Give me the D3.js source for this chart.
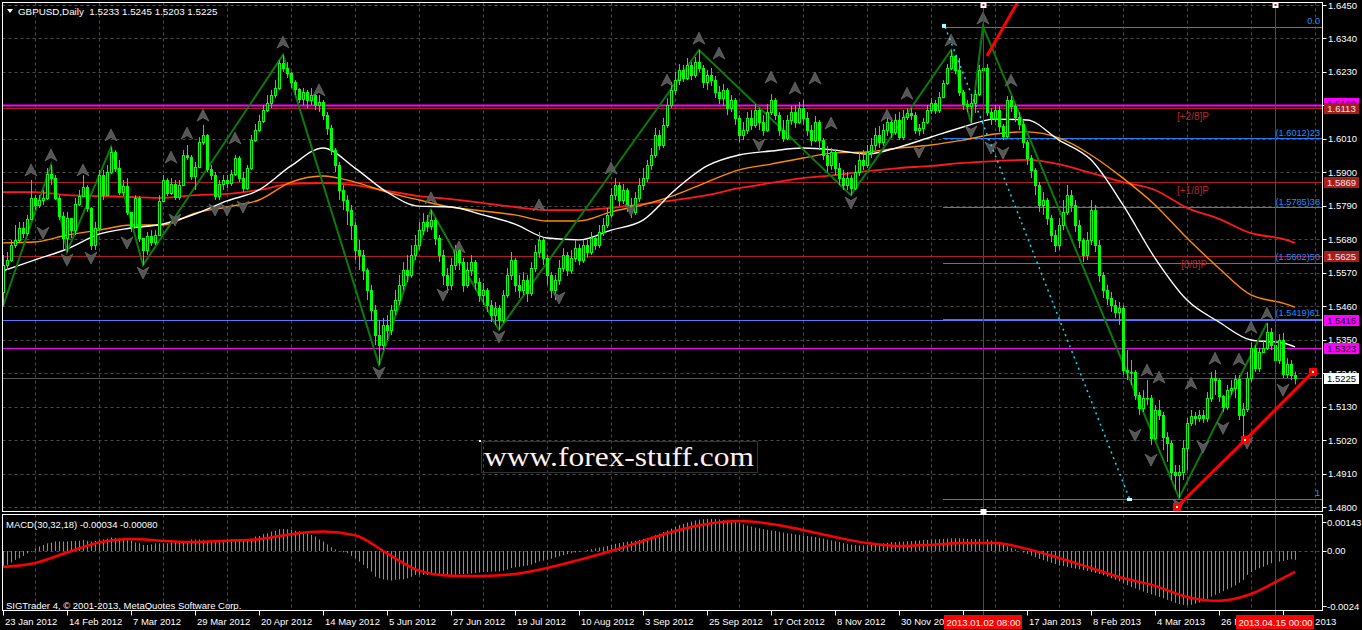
<!DOCTYPE html>
<html><head><meta charset="utf-8">
<script src="https://cdn.jsdelivr.net/npm/d3@7"></script>
<style>body{margin:0;background:#000;overflow:hidden}svg{display:block}text{font-family:"Liberation Sans",Arial,sans-serif}</style>
</head><body>
<svg id="c" width="1362" height="630"></svg>
<script>
// ---------------- DATA (prices in pips, /10000) ----------------
const firstOpenPips = 15507;
const closesPips = [
15595,15612,15661,15678,15717,15700,15747,15816,15793,15809,
15816,15895,15881,15816,15756,15684,15750,15710,15796,15822,
15852,15783,15661,15717,15891,15825,15901,15967,15914,15835,
15855,15770,15724,15816,15684,15645,15691,15671,15694,15806,
15875,15832,15862,15819,15858,15957,15950,15888,15918,16000,
16023,15911,15891,15822,15862,15875,15865,15895,15947,15881,
15848,15914,16006,16039,16069,16105,16128,16154,16177,16259,
16243,16226,16197,16174,16141,16164,16138,16154,16121,16131,
16088,16046,15973,15924,15842,15809,15776,15727,15645,15628,
15579,15513,15447,15365,15332,15398,15382,15447,15480,15530,
15579,15563,15628,15661,15710,15737,15724,15743,15684,15628,
15563,15530,15595,15645,15605,15530,15579,15605,15539,15497,
15513,15464,15431,15454,15415,15497,15563,15612,15530,15513,
15546,15503,15585,15638,15678,15619,15563,15513,15546,15585,
15628,15579,15619,15651,15612,15661,15638,15684,15661,15704,
15727,15760,15825,15858,15809,15842,15793,15770,15816,15858,
15881,15924,15957,16023,15990,16056,16121,16171,16203,16236,
16210,16253,16220,16262,16243,16197,16220,16203,16164,16144,
16171,16111,16138,16079,16023,16039,16079,16056,16105,16065,
16039,16098,16138,16088,16039,16013,16072,16098,16065,16111,
16079,16039,16006,16065,16006,15957,15924,15967,15914,15881,
15858,15881,15848,15901,15941,15924,15967,15990,16023,16000,
16039,16065,16033,16072,16016,16082,16095,16088,16039,16046,
16065,16105,16128,16105,16148,16194,16243,16282,16236,16164,
16125,16118,16128,16157,16236,16243,16098,16079,16105,16052,
16020,16138,16118,16082,16059,16000,15947,15908,15858,15793,
15809,15750,15694,15661,15727,15770,15825,15793,15727,15678,
15628,15678,15776,15661,15563,15513,15487,15464,15441,15454,
15250,15243,15243,15168,15125,15158,15158,15027,15119,15102,
15030,15010,14915,14905,14915,14994,15076,15099,15092,15102,
15092,15158,15224,15217,15165,15129,15184,15191,15221,15102,
15122,15224,15322,15257,15309,15322,15375,15332,15283,15349,
15237,15270,15233,15225];
const highsPips = [
15628,15638,15678,15727,15737,15737,15760,15875,15825,15825,
15842,15914,15924,15891,15825,15770,15770,15743,15816,15842,
15891,15858,15786,15737,15908,15908,15924,15983,15973,15941,
15875,15881,15770,15825,15822,15684,15704,15710,15710,15825,
15891,15881,15881,15875,15875,15973,15990,15957,15934,16016,
16056,16026,15924,15901,15875,15891,15891,15908,15957,15954,
15901,15924,16023,16059,16089,16121,16154,16171,16203,16269,
16286,16262,16230,16203,16177,16177,16171,16177,16164,16154,
16138,16098,16056,15980,15934,15858,15825,15793,15737,15678,
15645,15585,15530,15464,15415,15421,15431,15464,15513,15563,
15605,15628,15661,15694,15737,15766,15760,15776,15750,15694,
15645,15585,15619,15661,15651,15619,15605,15628,15612,15553,
15536,15520,15480,15474,15464,15513,15585,15638,15619,15563,
15572,15563,15605,15661,15704,15684,15628,15572,15563,15612,
15651,15638,15645,15678,15664,15678,15678,15704,15694,15727,
15750,15783,15848,15881,15868,15862,15848,15816,15835,15881,
15914,15941,15980,16046,16039,16079,16144,16197,16230,16256,
16253,16276,16262,16279,16302,16253,16236,16243,16217,16184,
16190,16177,16154,16144,16088,16065,16098,16105,16124,16111,
16088,16124,16157,16144,16098,16072,16088,16118,16121,16131,
16138,16098,16056,16085,16072,16013,15987,15980,15973,15931,
15908,15901,15891,15924,15967,15973,15990,16013,16046,16052,
16059,16085,16079,16092,16098,16105,16111,16111,16098,16059,
16079,16121,16144,16138,16164,16203,16256,16302,16282,16276,
16171,16138,16151,16171,16253,16380,16256,16111,16121,16118,
16059,16151,16151,16124,16098,16072,16006,15957,15914,15868,
15835,15816,15760,15710,15750,15809,15858,15842,15809,15743,
15684,15704,15809,15793,15678,15572,15530,15507,15480,15474,
15464,15316,15283,15250,15178,15184,15217,15168,15135,15152,
15112,15046,15020,14938,14938,15020,15092,15119,15112,15119,
15119,15178,15244,15250,15224,15168,15201,15217,15234,15234,
15142,15244,15342,15332,15322,15349,15405,15388,15349,15368,
15372,15289,15283,15245];
const lowsPips = [
15460,15579,15605,15651,15671,15684,15691,15743,15776,15783,
15793,15809,15858,15809,15743,15645,15638,15684,15694,15789,
15825,15770,15645,15645,15710,15809,15822,15895,15901,15825,
15822,15760,15704,15717,15671,15595,15628,15658,15661,15691,
15802,15822,15825,15809,15809,15855,15941,15875,15842,15914,
15990,15901,15875,15809,15809,15842,15848,15855,15888,15868,
15835,15842,15908,16000,16033,16062,16098,16111,16144,16171,
16230,16210,16177,16154,16128,16121,16111,16121,16105,16098,
16072,16023,15957,15901,15809,15776,15727,15678,15612,15579,
15546,15480,15415,15332,15267,15316,15349,15365,15431,15464,
15513,15539,15553,15612,15645,15694,15704,15710,15661,15605,
15530,15503,15513,15579,15579,15507,15520,15559,15513,15474,
15464,15441,15408,15398,15382,15405,15487,15546,15507,15487,
15497,15474,15494,15572,15619,15595,15530,15487,15480,15530,
15572,15559,15566,15605,15595,15602,15619,15628,15645,15651,
15691,15717,15750,15809,15789,15796,15770,15750,15760,15802,
15842,15868,15908,15947,15973,15980,16046,16111,16154,16187,
16197,16203,16203,16210,16230,16177,16171,16184,16144,16124,
16118,16088,16098,16056,16000,16006,16026,16039,16046,16039,
16020,16033,16088,16072,16020,16000,16006,16056,16046,16059,
16056,16020,15987,16000,15973,15941,15901,15908,15891,15858,
15842,15842,15825,15842,15888,15908,15914,15947,15973,15980,
15987,16020,16013,16023,16006,16006,16072,16072,16026,16020,
16026,16059,16092,16092,16095,16144,16187,16236,16223,16151,
16105,16098,16062,16095,16151,16223,16085,16056,16065,16033,
16006,16013,16098,16065,16039,15980,15924,15881,15825,15770,
15760,15727,15671,15638,15645,15710,15760,15770,15704,15651,
15605,15612,15661,15638,15539,15487,15464,15441,15421,15398,
15234,15217,15201,15152,15102,15112,15135,15004,15020,15086,
14987,14948,14889,14856,14830,14889,14921,15066,15069,15079,
15076,15079,15145,15168,15145,15112,15119,15168,15158,15086,
15030,15112,15211,15244,15244,15306,15316,15316,15263,15270,
15224,15224,15217,15203];

// MACD histogram (x 1e-5) per bar, signal sampled every 8 bars
const macdMainE5 = [
-60,-53,-44,-34,-28,-19,-9,-3,10,17,
23,29,32,36,36,36,36,38,38,39,
42,39,36,38,42,44,47,51,50,48,
47,44,39,32,29,23,23,25,29,29,
29,29,33,36,36,36,36,44,44,44,
42,39,39,39,42,42,44,44,42,42,
42,42,47,55,57,64,67,74,77,83,
84,83,80,77,75,72,67,61,55,44,
36,25,14,6,-1,-5,-9,-19,-28,-41,
-53,-66,-79,-98,-104,-108,-110,-113,-110,-108,
-108,-104,-98,-91,-91,-91,-91,-91,-91,-91,
-91,-91,-91,-90,-88,-88,-87,-85,-84,-82,
-80,-80,-79,-78,-78,-75,-70,-65,-62,-60,
-58,-56,-52,-46,-40,-37,-33,-30,-25,-20,
-16,-12,-9,-6,-3,1,4,7,10,13,
16,19,23,27,30,33,35,37,39,42,
46,50,55,61,66,72,78,85,92,98,
103,108,112,116,119,121,122,122,121,120,
118,116,113,110,106,101,97,93,89,86,
83,80,78,76,73,70,67,65,63,61,
59,57,55,53,50,47,43,40,37,34,
30,27,24,22,21,21,22,23,25,27,
29,31,33,34,35,36,37,38,39,40,
41,42,43,44,45,46,47,48,48,48,
47,46,45,45,46,47,44,40,35,30,
24,18,12,6,0,-6,-12,-18,-24,-30,
-35,-40,-45,-50,-55,-58,-61,-64,-67,-70,
-73,-76,-80,-84,-88,-93,-98,-104,-110,-116,
-123,-130,-137,-143,-149,-155,-160,-165,-170,-175,
-180,-186,-192,-198,-202,-205,-206,-205,-201,-196,
-189,-182,-174,-167,-160,-153,-146,-139,-131,-121,
-110,-91,-80,-72,-66,-60,-53,-47,-44,-41,
-38,-34,-32,-34];
const sampleIdx = [0,8,16,24,32,40,48,56,64,72,80,88,96,104,112,120,128,136,144,152,160,168,176,184,192,200,208,216,224,232,240,248,256,264,272,280,288,296,304,312,320,323];
const macdSignalE5 = [-61,-46,-6,32,46,39,34,39,45,64,74,60,-9,-75,-94,-95,-88,-65,-34,0,38,76,103,114,103,80,53,30,19,23,30,30,8,-27,-65,-103,-133,-175,-190,-164,-103,-80];

// moving averages sampled at sampleIdx
const maWhitePips = [15576,15612,15648,15697,15717,15730,15763,15806,15842,15921,15980,15914,15835,15789,15786,15760,15730,15684,15678,15710,15743,15842,15921,15957,15970,15980,15973,15960,15983,16016,16049,16075,16072,16006,15941,15793,15618,15480,15408,15349,15339,15326];
const maOrangePips = [15668,15671,15694,15710,15727,15727,15766,15786,15809,15868,15888,15868,15835,15809,15786,15773,15760,15740,15740,15770,15793,15825,15868,15908,15927,15947,15964,15967,15980,15990,16006,16026,16033,16013,15957,15881,15793,15684,15585,15497,15470,15457];
const maRedPips = [15835,15835,15825,15822,15819,15816,15825,15829,15842,15862,15865,15858,15839,15822,15812,15799,15786,15776,15776,15783,15796,15809,15825,15848,15865,15881,15891,15904,15914,15921,15931,15937,15941,15927,15898,15868,15842,15783,15747,15700,15681,15668];

// zigzag vertices [bar, price]
const zigzag = [[0,1.5460],[12,1.5924],[16,1.5638],[27,1.5983],[35,1.5595],[70,1.6286],[94,1.5267],[107,1.5776],[124,1.5382],[174,1.6302],[212,1.5825],[237,1.6302],[242,1.6062],[245,1.6380],[294,1.4830],[316,1.5405]];
// fractal-like arrow markers [bar, price]
const upMarks = [[7,1.5908],[12,1.5957],[20,1.5908],[27,1.6023],[42,1.5950],[46,1.6029],[50,1.6088],[58,1.6013],[70,1.6328],[79,1.6171],[107,1.5816],[114,1.5655],[134,1.5793],[152,1.5914],[166,1.6203],[174,1.6341],[179,1.6292],[192,1.6213],[198,1.6177],[203,1.6210],[207,1.6062],[221,1.6088],[226,1.6160],[237,1.6335],[245,1.6407],[252,1.6203],[286,1.5250],[289,1.5227],[297,1.5207],[303,1.5289],[309,1.5286],[312,1.5391],[316,1.5437]];
const downMarks = [[10,1.5700],[16,1.5612],[22,1.5618],[31,1.5668],[35,1.5569],[43,1.5743],[53,1.5776],[56,1.5776],[60,1.5786],[94,1.5240],[110,1.5497],[124,1.5359],[139,1.5487],[157,1.5776],[189,1.5990],[212,1.5799],[229,1.5967],[242,1.6033],[247,1.5980],[250,1.5963],[283,1.5036],[287,1.4954],[294,1.4806],[300,1.4997],[305,1.5059],[311,1.5010],[320,1.5184]];

const priceTicks = [1.6450,1.6340,1.6230,1.6120,1.6010,1.5900,1.5790,1.5680,1.5570,1.5460,1.5350,1.5240,1.5130,1.5020,1.4910,1.4800];
const priceTickHidden = [1.6120];
const dateTickIdx = [0,16,32,48,64,80,96,112,128,144,160,176,192,208,224,240,256,272,288,304,320];
const dateTickLabels = ["23 Jan 2012","14 Feb 2012","7 Mar 2012","29 Mar 2012","20 Apr 2012","14 May 2012","5 Jun 2012","27 Jun 2012","19 Jul 2012","10 Aug 2012","3 Sep 2012","25 Sep 2012","17 Oct 2012","8 Nov 2012","30 Nov 2012","24 Dec 2012","17 Jan 2013","8 Feb 2013","4 Mar 2013","26 Mar 2013","17 Apr 2013"];

const murreyLevels = [1.6113,1.5869,1.5625];
const murreyNames = ["[+2/8]P","[+1/8]P","[8/8]P"];
const fiboLevels = [1.6378,1.6012,1.5785,1.5602,1.5419,1.4827];
const fiboNames = ["0.0","(1.6012)23","(1.5785)38","(1.5602)50","(1.5419)61","1"];
const fiboStart = 235;
const hLineLevels = [1.6120,1.5416,1.5323];
const hLineColors = ["#ff00ff","#5a78ff","#ff00ff"];
const bidPrice = 1.5225;
const tagValues = [1.6120,1.6113,1.5869,1.5625,1.5416,1.5323,1.5225];
const tagTexts = ["1.6120","1.6113","1.5869","1.5625","1.5416","1.5323","1.5225"];
const tagKinds = ["mag","brown","brown","brown","mag","mag","white"];
const crossIdx = [245,318];
const crossLabels = ["2013.01.02 08:00","2013.04.15 00:00"];
const supportLine = [[293.5,1.4800],[310.5,1.5020],[327.5,1.5244]];
const topLine = [[246,1.6282],[254.25,1.6473]];
const fiboTrend = [[235.5,1.6378],[281.75,1.4823]];
const macdTicks = [0.00143,0,-0.0024];
const macdTickLabels = ["0.00143","0.00","-0.0024"];

// ---------------- DRAW ----------------
const svg = d3.select('#c');
const L=2.5,R=1322.5,T=2.5,B=511.5,MT=514.5,MB=610.5;
const x = d3.scaleLinear().domain([0,323]).range([3,1295]);
const y = d3.scaleLinear().domain([1.4800,1.6450]).range([507,5]);
const ym = d3.scaleLinear().domain([-0.0024,0.00143]).range([614,513.4]);
const P = v=>v/10000;
const closes=closesPips.map(P), highs=highsPips.map(P), lows=lowsPips.map(P);
const opens=closes.map((c,i)=>i===0?P(firstOpenPips):closes[i-1]);
const bars=closes.map((c,i)=>({i,o:opens[i],c,h:Math.max(highs[i],opens[i],c),l:Math.min(lows[i],opens[i],c)}));
const bx=i=>Math.round(x(i));

svg.append('rect').attr('width',1362).attr('height',630).attr('fill','#000');
const defs=svg.append('defs');
defs.append('clipPath').attr('id','cm').append('rect').attr('x',L).attr('y',T).attr('width',R-L).attr('height',B-T);
defs.append('clipPath').attr('id','cd').append('rect').attr('x',L).attr('y',MT).attr('width',R-L).attr('height',MB-MT);
const cpd=defs.append('clipPath').attr('id','cdate');
cpd.append('rect').attr('x',0).attr('y',610).attr('width',bx(crossIdx[0])-39).attr('height',20);
cpd.append('rect').attr('x',bx(crossIdx[0])+39).attr('y',610).attr('width',(bx(crossIdx[1])-39)-(bx(crossIdx[0])+39)).attr('height',20);
cpd.append('rect').attr('x',bx(crossIdx[1])+39).attr('y',610).attr('width',200).attr('height',20);
defs.append('clipPath').attr('id','ctag0').append('rect').attr('x',1320).attr('y',0).attr('width',42).attr('height',Math.round(y(1.6113))-5);

const gm = svg.append('g').attr('clip-path','url(#cm)');
const gd = svg.append('g').attr('clip-path','url(#cd)');
const grid='#4a4a4a';
gm.selectAll('line.hg').data(priceTicks).join('line').attr('class','hg').attr('x1',L).attr('x2',R)
  .attr('y1',d=>Math.round(y(d))+0.5).attr('y2',d=>Math.round(y(d))+0.5)
  .attr('stroke',grid).attr('stroke-dasharray','3,3');
const vgrid = dateTickIdx.map(i=>i+8);
[gm,gd].forEach(g=>g.selectAll('line.vg').data(vgrid).join('line').attr('class','vg')
  .attr('x1',d=>Math.round(x(d))+0.5).attr('x2',d=>Math.round(x(d))+0.5)
  .attr('y1',g===gm?T:MT).attr('y2',g===gm?B:MB).attr('stroke',grid).attr('stroke-dasharray','3,3'));
gd.append('line').attr('x1',L).attr('x2',R).attr('y1',Math.round(ym(0))+0.5).attr('y2',Math.round(ym(0))+0.5)
  .attr('stroke',grid).attr('stroke-dasharray','3,3');

const hy=v=>Math.round(y(v))+0.5;
gm.selectAll('line.mur').data(murreyLevels).join('line').attr('class','mur').attr('x1',L).attr('x2',R).attr('y1',hy).attr('y2',hy).attr('stroke','#b01e1e');
gm.append('line').attr('x1',L).attr('x2',R).attr('y1',hy(bidPrice)).attr('y2',hy(bidPrice)).attr('stroke','#555');
gm.selectAll('line.hl').data(hLineLevels).join('line').attr('class','hl').attr('x1',L).attr('x2',R).attr('y1',hy).attr('y2',hy)
  .attr('stroke',(d,i)=>hLineColors[i]).attr('stroke-width',(d,i)=>i===0?2:1);
gm.selectAll('line.fib').data(fiboLevels).join('line').attr('class','fib').attr('x1',x(fiboStart)).attr('x2',R).attr('y1',hy).attr('y2',hy).attr('stroke','#1e82ff');
gm.selectAll('text.fibt').data(fiboLevels).join('text').attr('class','fibt').attr('x',1320).attr('y',d=>y(d)-2.5).attr('text-anchor','end')
  .attr('fill','#1e90ff').attr('font-size',9.2).text((d,i)=>fiboNames[i]);
gm.selectAll('text.murt').data(murreyLevels).join('text').attr('class','murt').attr('x',(d,i)=>i===2?1181:1177).attr('y',d=>y(d)+12)
  .attr('fill','#b8282a').attr('font-size',10).text((d,i)=>murreyNames[i]);

const maLine=arr=>d3.line().x((d,k)=>x(sampleIdx[k])).y(d=>y(P(d))).curve(d3.curveMonotoneX)(arr);
gm.append('path').attr('d',maLine(maRedPips)).attr('fill','none').attr('stroke','#ff1a1a').attr('stroke-width',1.8);
gm.append('path').attr('d',maLine(maOrangePips)).attr('fill','none').attr('stroke','#ff8c00').attr('stroke-width',1.4);
gm.append('path').attr('d',maLine(maWhitePips)).attr('fill','none').attr('stroke','#ffffff').attr('stroke-width',1.4);

gm.append('path').attr('d',d3.line().x(d=>x(d[0])).y(d=>y(d[1]))(zigzag)).attr('fill','none').attr('stroke','#0b7a0b').attr('stroke-width',2);

gm.selectAll('line.wick').data(bars).join('line').attr('class','wick').attr('x1',d=>bx(d.i)+0.5).attr('x2',d=>bx(d.i)+0.5)
  .attr('y1',d=>y(d.h)).attr('y2',d=>y(d.l)).attr('stroke','#00ff00');
gm.selectAll('rect.body').data(bars).join('rect').attr('class','body').attr('x',d=>bx(d.i)-0.5).attr('width',2)
  .attr('y',d=>Math.round(y(Math.max(d.o,d.c)))+0.5)
  .attr('height',d=>Math.max(0.5,Math.round(y(Math.min(d.o,d.c)))-Math.round(y(Math.max(d.o,d.c)))))
  .attr('fill',d=>d.c>d.o?'#000':'#00ff00').attr('stroke','#00ff00');

const upPath='M0,-6 L6,6 L0,2.5 L-6,6 Z', dnPath='M0,6 L6,-6 L0,-2.5 L-6,-6 Z';
gm.selectAll('path.um').data(upMarks).join('path').attr('class','um').attr('d',upPath)
  .attr('transform',d=>`translate(${x(d[0])},${y(d[1])})`).attr('fill','#555').attr('stroke','#7a7a7a').attr('stroke-width',0.6);
gm.selectAll('path.dm').data(downMarks).join('path').attr('class','dm').attr('d',dnPath)
  .attr('transform',d=>`translate(${x(d[0])},${y(d[1])})`).attr('fill','#555').attr('stroke','#7a7a7a').attr('stroke-width',0.6);

gm.append('path').attr('d',d3.line().x(d=>x(d[0])).y(d=>y(d[1]))(fiboTrend)).attr('stroke','#00e5ff')
  .attr('stroke-width',1.5).attr('stroke-dasharray','2,4').attr('fill','none');
gm.append('rect').attr('x',x(fiboTrend[0][0])-3).attr('y',y(fiboTrend[0][1])-3).attr('width',4).attr('height',4).attr('fill','#9ff');
gm.append('rect').attr('x',x(fiboTrend[1][0])-3).attr('y',y(fiboTrend[1][1])-2).attr('width',5).attr('height',3).attr('fill','#cff');
const tl=d3.line().x(d=>x(d[0])).y(d=>y(d[1]));
gm.append('path').attr('d',tl(supportLine)).attr('stroke','#ff0000').attr('stroke-width',3).attr('fill','none');
gm.append('path').attr('d',tl(topLine)).attr('stroke','#ff0000').attr('stroke-width',3).attr('fill','none');
gm.selectAll('rect.sq').data(supportLine).join('rect').attr('class','sq').attr('x',d=>x(d[0])-4).attr('y',d=>y(d[1])-4)
  .attr('width',8).attr('height',8).attr('fill','#ff0000');
gm.selectAll('rect.sqd').data(supportLine).join('rect').attr('class','sqd').attr('x',d=>x(d[0])-1).attr('y',d=>y(d[1])-1)
  .attr('width',2).attr('height',2).attr('fill','#fff');

svg.append('rect').attr('x',481.5).attr('y',441.5).attr('width',276).attr('height',31).attr('fill','none').attr('stroke','#333');
svg.append('rect').attr('x',479).attr('y',440).attr('width',2).attr('height',2).attr('fill','#fff');
svg.append('text').attr('x',484).attr('y',466).style('font-family','"Liberation Serif",serif')
  .attr('font-size',28).attr('fill','#fff0ee').attr('textLength',270).attr('lengthAdjust','spacingAndGlyphs').text('www.forex-stuff.com');

gd.selectAll('line.mh').data(macdMainE5).join('line').attr('class','mh').attr('x1',(d,i)=>bx(i)+0.5).attr('x2',(d,i)=>bx(i)+0.5)
  .attr('y1',ym(0)).attr('y2',d=>ym(d*1e-5)).attr('stroke','#2fd02f');
gd.append('path').attr('d',d3.line().x((d,k)=>x(sampleIdx[k])).y(d=>ym(d*1e-5)).curve(d3.curveMonotoneX)(macdSignalE5))
  .attr('fill','none').attr('stroke','#ff0000').attr('stroke-width',2.5);

svg.selectAll('line.cv').data(crossIdx).join('line').attr('class','cv').attr('x1',d=>bx(d)+0.5).attr('x2',d=>bx(d)+0.5)
  .attr('y1',T).attr('y2',616).attr('stroke','#ff0000');
crossIdx.forEach(i=>{
  svg.append('rect').attr('x',bx(i)-2.5).attr('y',2).attr('width',6).attr('height',6).attr('fill','#fff');
  svg.append('rect').attr('x',bx(i)-0.5).attr('y',4).attr('width',2).attr('height',2).attr('fill','#f00');
});
svg.append('rect').attr('x',bx(245)-2.5).attr('y',509).attr('width',6).attr('height',5).attr('fill','#fff');

svg.append('rect').attr('x',L).attr('y',T).attr('width',R-L).attr('height',B-T).attr('fill','none').attr('stroke','#fff');
svg.append('rect').attr('x',L).attr('y',MT).attr('width',R-L).attr('height',MB-MT).attr('fill','none').attr('stroke','#fff');

svg.selectAll('line.pt').data(priceTicks).join('line').attr('class','pt').attr('x1',R).attr('x2',R+4).attr('y1',hy).attr('y2',hy).attr('stroke','#fff');
svg.selectAll('text.pl').data(priceTicks.filter(t=>!priceTickHidden.includes(t))).join('text').attr('class','pl')
  .attr('x',1328).attr('y',d=>y(d)+3.5).attr('fill','#fff').attr('font-size',9.5).text(d=>d.toFixed(4));
const tagBg={mag:'#ff00ff',brown:'#a51e1e',white:'#ffffff'}, tagFg={mag:'#000',brown:'#f4e4e4',white:'#000'};
const tags=tagValues.map((v,k)=>({v,t:tagTexts[k],k:tagKinds[k],n:k}));
const tg=svg.selectAll('g.tag').data(tags).join('g').attr('class','tag').attr('clip-path',d=>d.n===0?'url(#ctag0)':null);
tg.append('rect').attr('x',1324).attr('y',d=>Math.round(y(d.v))-(d.n===0?7:5)).attr('width',35).attr('height',11).attr('fill',d=>tagBg[d.k]);
tg.append('text').attr('x',1341.5).attr('y',d=>Math.round(y(d.v))+(d.n===0?1.8:3.8)).attr('text-anchor','middle').attr('font-size',9.5)
  .attr('fill',d=>tagFg[d.k]).text(d=>d.t);

const mly=d=>Math.max(522,Math.min(606,ym(d)));
svg.selectAll('text.ml').data(macdTicks).join('text').attr('class','ml').attr('x',1327)
  .attr('y',d=>mly(d)+3.5).attr('fill','#fff').attr('font-size',9.5).text((d,i)=>macdTickLabels[i]);
svg.selectAll('line.mtk').data(macdTicks).join('line').attr('class','mtk').attr('x1',R).attr('x2',R+4)
  .attr('y1',d=>Math.round(mly(d))+0.5).attr('y2',d=>Math.round(mly(d))+0.5).attr('stroke','#fff');

svg.selectAll('line.dt').data(dateTickIdx).join('line').attr('class','dt').attr('x1',d=>bx(d)+0.5).attr('x2',d=>bx(d)+0.5)
  .attr('y1',MB).attr('y2',MB+5).attr('stroke','#fff');
svg.append('g').attr('clip-path','url(#cdate)').selectAll('text.dl').data(dateTickIdx.filter(i=>i!==240)).join('text').attr('class','dl')
  .attr('x',d=>bx(d)+2).attr('y',624.5).attr('fill','#fff').attr('font-size',9.5)
  .text(d=>dateTickLabels[dateTickIdx.indexOf(d)]);
crossIdx.forEach((i,k)=>{
  svg.append('rect').attr('x',bx(i)-39).attr('y',615).attr('width',78).attr('height',14).attr('fill','#ff0000');
  svg.append('text').attr('x',bx(i)+0.5).attr('y',625.5).attr('text-anchor','middle').attr('fill','#fff').attr('font-size',9.5).text(crossLabels[k]);
});

svg.append('path').attr('d','M7,9 L13,9 L10,13 Z').attr('fill','#fff');
svg.append('text').attr('x',18).attr('y',15).attr('fill','#fff').attr('font-size',9.8).style('white-space','pre')
  .text('GBPUSD,Daily  1.5233 1.5245 1.5203 1.5225');
svg.append('text').attr('x',6).attr('y',527.5).attr('fill','#fff').attr('font-size',9.5).text('MACD(30,32,18) -0.00034 -0.00080');
svg.append('text').attr('x',6).attr('y',609).attr('fill','#fff').attr('font-size',9.5).text('SIGTrader 4, \u00a9 2001-2013, MetaQuotes Software Corp.');
</script>
</body></html>
